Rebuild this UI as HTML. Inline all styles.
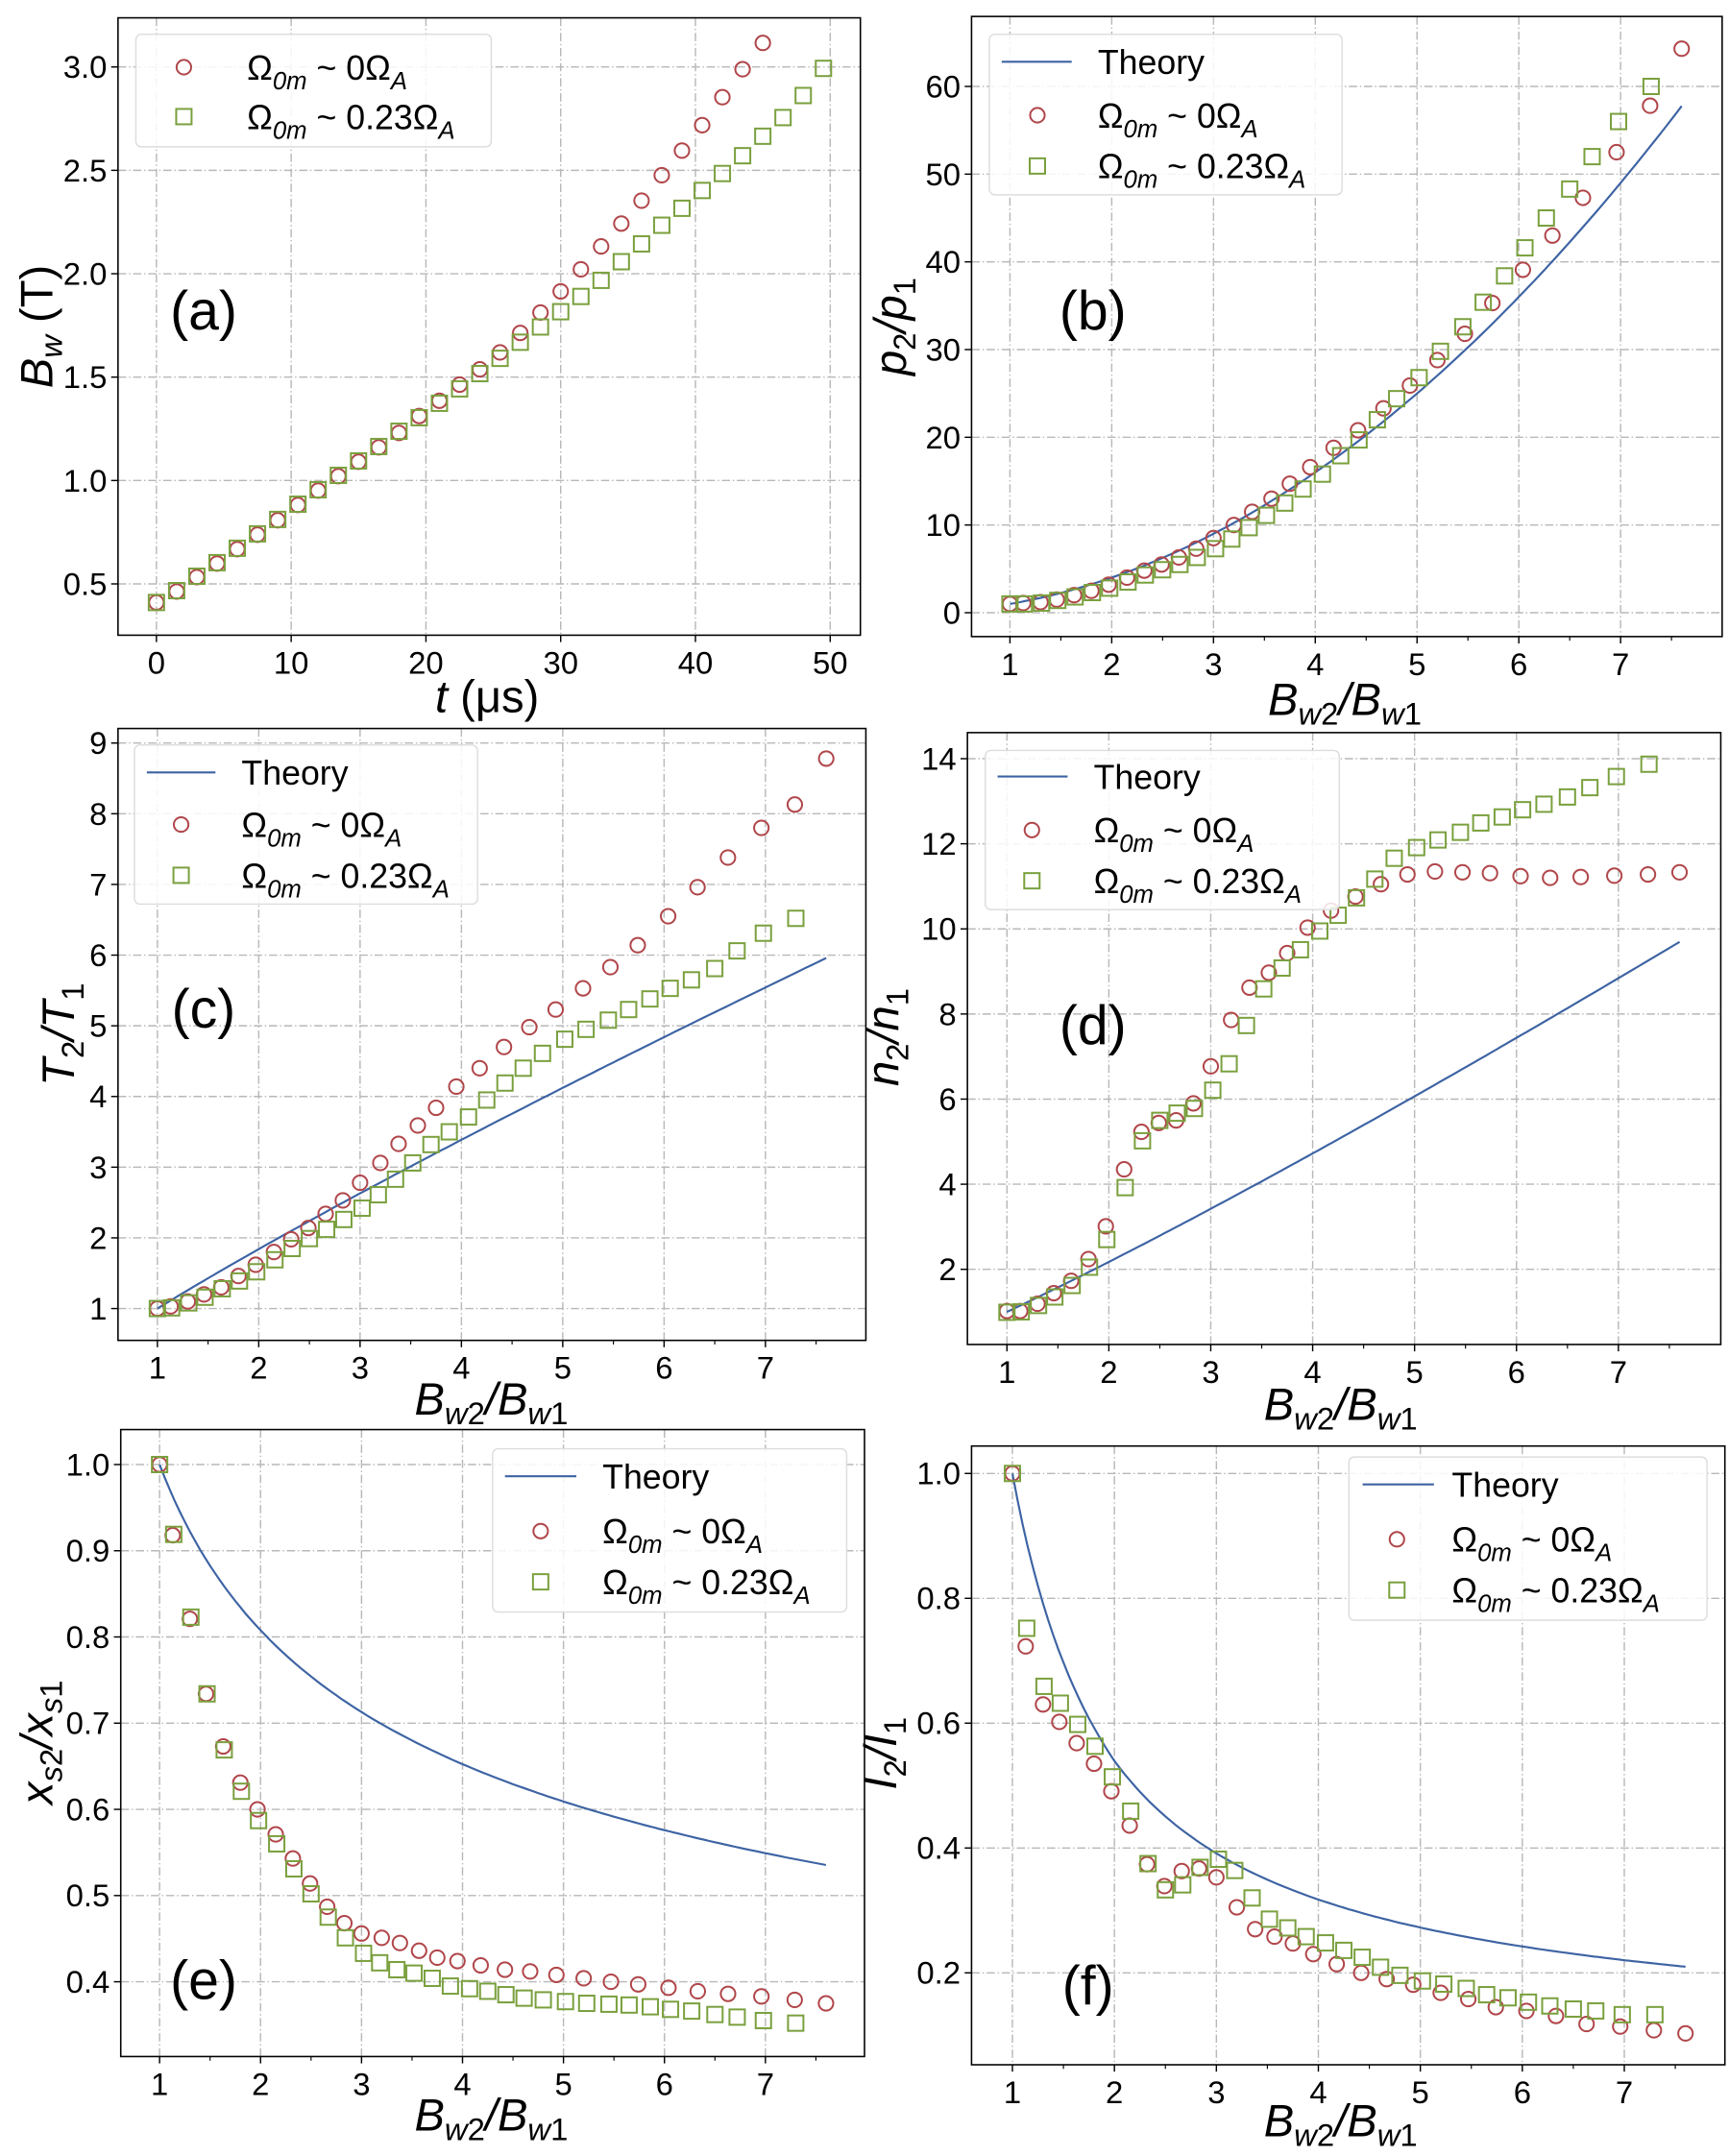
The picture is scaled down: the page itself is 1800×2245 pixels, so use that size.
<!DOCTYPE html>
<html><head><meta charset="utf-8">
<style>
html,body{margin:0;padding:0;background:#fff}
svg{display:block}
text{font-family:"Liberation Sans","DejaVu Sans",sans-serif;fill:#000}
.tk{font-size:23px}
.al{font-size:33px}
.lg{font-size:25px}
.pl{font-size:40px}
</style></head>
<body>
<svg id="s" width="1800" height="2245" viewBox="0 0 1260 1571.5" xmlns="http://www.w3.org/2000/svg">
<g id="grid"></g>
<g id="data"></g>
<g id="frames"></g>

<g id="a" class="tk"><text class="xt">0</text><text class="xt">10</text><text class="xt">20</text><text class="xt">30</text><text class="xt">40</text><text class="xt">50</text>
<text class="yt">0.5</text><text class="yt">1.0</text><text class="yt">1.5</text><text class="yt">2.0</text><text class="yt">2.5</text><text class="yt">3.0</text></g>
<g id="b" class="tk"><text class="xt">1</text><text class="xt">2</text><text class="xt">3</text><text class="xt">4</text><text class="xt">5</text><text class="xt">6</text><text class="xt">7</text>
<text class="yt">0</text><text class="yt">10</text><text class="yt">20</text><text class="yt">30</text><text class="yt">40</text><text class="yt">50</text><text class="yt">60</text></g>
<g id="c" class="tk"><text class="xt">1</text><text class="xt">2</text><text class="xt">3</text><text class="xt">4</text><text class="xt">5</text><text class="xt">6</text><text class="xt">7</text>
<text class="yt">1</text><text class="yt">2</text><text class="yt">3</text><text class="yt">4</text><text class="yt">5</text><text class="yt">6</text><text class="yt">7</text><text class="yt">8</text><text class="yt">9</text></g>
<g id="d" class="tk"><text class="xt">1</text><text class="xt">2</text><text class="xt">3</text><text class="xt">4</text><text class="xt">5</text><text class="xt">6</text><text class="xt">7</text>
<text class="yt">2</text><text class="yt">4</text><text class="yt">6</text><text class="yt">8</text><text class="yt">10</text><text class="yt">12</text><text class="yt">14</text></g>
<g id="e" class="tk"><text class="xt">1</text><text class="xt">2</text><text class="xt">3</text><text class="xt">4</text><text class="xt">5</text><text class="xt">6</text><text class="xt">7</text>
<text class="yt">0.4</text><text class="yt">0.5</text><text class="yt">0.6</text><text class="yt">0.7</text><text class="yt">0.8</text><text class="yt">0.9</text><text class="yt">1.0</text></g>
<g id="f" class="tk"><text class="xt">1</text><text class="xt">2</text><text class="xt">3</text><text class="xt">4</text><text class="xt">5</text><text class="xt">6</text><text class="xt">7</text>
<text class="yt">0.2</text><text class="yt">0.4</text><text class="yt">0.6</text><text class="yt">0.8</text><text class="yt">1.0</text></g>

<g id="legends"></g>
<g class="lg">
<text x="180" y="58">Ω<tspan font-size="18" dy="7" font-style="italic">0m</tspan><tspan dy="-7"> ~ 0Ω</tspan><tspan font-size="18" dy="7" font-style="italic">A</tspan></text>
<text x="180" y="94">Ω<tspan font-size="18" dy="7" font-style="italic">0m</tspan><tspan dy="-7"> ~ 0.23Ω</tspan><tspan font-size="18" dy="7" font-style="italic">A</tspan></text>

<text x="800" y="54">Theory</text>
<text x="800" y="93">Ω<tspan font-size="18" dy="7" font-style="italic">0m</tspan><tspan dy="-7"> ~ 0Ω</tspan><tspan font-size="18" dy="7" font-style="italic">A</tspan></text>
<text x="800" y="130">Ω<tspan font-size="18" dy="7" font-style="italic">0m</tspan><tspan dy="-7"> ~ 0.23Ω</tspan><tspan font-size="18" dy="7" font-style="italic">A</tspan></text>

<text x="176" y="572">Theory</text>
<text x="176" y="610">Ω<tspan font-size="18" dy="7" font-style="italic">0m</tspan><tspan dy="-7"> ~ 0Ω</tspan><tspan font-size="18" dy="7" font-style="italic">A</tspan></text>
<text x="176" y="647">Ω<tspan font-size="18" dy="7" font-style="italic">0m</tspan><tspan dy="-7"> ~ 0.23Ω</tspan><tspan font-size="18" dy="7" font-style="italic">A</tspan></text>

<text x="797" y="575">Theory</text>
<text x="797" y="614">Ω<tspan font-size="18" dy="7" font-style="italic">0m</tspan><tspan dy="-7"> ~ 0Ω</tspan><tspan font-size="18" dy="7" font-style="italic">A</tspan></text>
<text x="797" y="651">Ω<tspan font-size="18" dy="7" font-style="italic">0m</tspan><tspan dy="-7"> ~ 0.23Ω</tspan><tspan font-size="18" dy="7" font-style="italic">A</tspan></text>

<text x="439" y="1085">Theory</text>
<text x="439" y="1125">Ω<tspan font-size="18" dy="7" font-style="italic">0m</tspan><tspan dy="-7"> ~ 0Ω</tspan><tspan font-size="18" dy="7" font-style="italic">A</tspan></text>
<text x="439" y="1162">Ω<tspan font-size="18" dy="7" font-style="italic">0m</tspan><tspan dy="-7"> ~ 0.23Ω</tspan><tspan font-size="18" dy="7" font-style="italic">A</tspan></text>

<text x="1058" y="1091">Theory</text>
<text x="1058" y="1131">Ω<tspan font-size="18" dy="7" font-style="italic">0m</tspan><tspan dy="-7"> ~ 0Ω</tspan><tspan font-size="18" dy="7" font-style="italic">A</tspan></text>
<text x="1058" y="1168">Ω<tspan font-size="18" dy="7" font-style="italic">0m</tspan><tspan dy="-7"> ~ 0.23Ω</tspan><tspan font-size="18" dy="7" font-style="italic">A</tspan></text>
</g>

<g class="pl">
<text x="124" y="240">(a)</text>
<text x="772" y="240">(b)</text>
<text x="125" y="749">(c)</text>
<text x="772" y="761">(d)</text>
<text x="124" y="1457">(e)</text>
<text x="774" y="1461">(f)</text>
</g>

<g class="al">
<text x="355" y="519" text-anchor="middle"><tspan font-style="italic">t</tspan> (μs)</text>
<text transform="translate(38,238) rotate(-90)" text-anchor="middle"><tspan font-style="italic">B</tspan><tspan font-size="23" dy="7" font-style="italic">w</tspan><tspan dy="-7"> (T)</tspan></text>

<text x="980" y="521" text-anchor="middle"><tspan font-style="italic">B</tspan><tspan font-size="23" dy="7" font-style="italic">w</tspan><tspan font-size="23">2</tspan><tspan dy="-7" font-style="italic">/B</tspan><tspan font-size="23" dy="7" font-style="italic">w</tspan><tspan font-size="23">1</tspan></text>
<text transform="translate(660,238) rotate(-90)" text-anchor="middle"><tspan font-style="italic">p</tspan><tspan font-size="23" dy="7">2</tspan><tspan dy="-7" font-style="italic">/p</tspan><tspan font-size="23" dy="7">1</tspan></text>

<text x="358" y="1031" text-anchor="middle"><tspan font-style="italic">B</tspan><tspan font-size="23" dy="7" font-style="italic">w</tspan><tspan font-size="23">2</tspan><tspan dy="-7" font-style="italic">/B</tspan><tspan font-size="23" dy="7" font-style="italic">w</tspan><tspan font-size="23">1</tspan></text>
<text transform="translate(54,754) rotate(-90)" text-anchor="middle"><tspan font-style="italic">T</tspan><tspan font-size="23" dy="7">2</tspan><tspan dy="-7" font-style="italic">/T</tspan><tspan font-size="23" dy="7">1</tspan></text>

<text x="977" y="1035" text-anchor="middle"><tspan font-style="italic">B</tspan><tspan font-size="23" dy="7" font-style="italic">w</tspan><tspan font-size="23">2</tspan><tspan dy="-7" font-style="italic">/B</tspan><tspan font-size="23" dy="7" font-style="italic">w</tspan><tspan font-size="23">1</tspan></text>
<text transform="translate(655,756) rotate(-90)" text-anchor="middle"><tspan font-style="italic">n</tspan><tspan font-size="23" dy="7">2</tspan><tspan dy="-7" font-style="italic">/n</tspan><tspan font-size="23" dy="7">1</tspan></text>

<text x="358" y="1553" text-anchor="middle"><tspan font-style="italic">B</tspan><tspan font-size="23" dy="7" font-style="italic">w</tspan><tspan font-size="23">2</tspan><tspan dy="-7" font-style="italic">/B</tspan><tspan font-size="23" dy="7" font-style="italic">w</tspan><tspan font-size="23">1</tspan></text>
<text transform="translate(38,1270) rotate(-90)" text-anchor="middle"><tspan font-style="italic">x</tspan><tspan font-size="23" dy="7" font-style="italic">s</tspan><tspan font-size="23">2</tspan><tspan dy="-7" font-style="italic">/x</tspan><tspan font-size="23" dy="7" font-style="italic">s</tspan><tspan font-size="23">1</tspan></text>

<text x="977" y="1557" text-anchor="middle"><tspan font-style="italic">B</tspan><tspan font-size="23" dy="7" font-style="italic">w</tspan><tspan font-size="23">2</tspan><tspan dy="-7" font-style="italic">/B</tspan><tspan font-size="23" dy="7" font-style="italic">w</tspan><tspan font-size="23">1</tspan></text>
<text transform="translate(653,1278) rotate(-90)" text-anchor="middle"><tspan font-style="italic">I</tspan><tspan font-size="23" dy="7">2</tspan><tspan dy="-7" font-style="italic">/I</tspan><tspan font-size="23" dy="7">1</tspan></text>
</g>
</svg>

<script>
(function(){
var NS="http://www.w3.org/2000/svg";
function el(p,t,a){var e=document.createElementNS(NS,t);for(var k in a)e.setAttribute(k,a[k]);p.appendChild(e);return e;}
var RED="#b0464a",GRN="#7aa03e",BLUE="#3d63a3";
var xc=[1,1.13,1.3,1.46,1.63,1.8,1.97,2.15,2.32,2.49,2.66,2.83,3.0,3.2,3.38,3.57,3.75,3.95,4.18,4.42,4.67,4.93,5.2,5.47,5.74,6.04,6.33,6.63,6.96,7.29,7.6];
var xs=[1,1.14,1.31,1.47,1.64,1.81,1.98,2.16,2.33,2.5,2.67,2.84,3.02,3.18,3.35,3.52,3.7,3.88,4.07,4.25,4.43,4.61,4.8,5.02,5.23,5.45,5.65,5.86,6.06,6.27,6.5,6.72,6.98,7.3];
var P={
a:{L:86,R:627,T:13,B:463,px:[0,114,50,605],py:[0.5,425.6,3.0,48.8],minor:false},
b:{L:708,R:1255,T:12,B:464,px:[1,736,7,1181],py:[0,446.6,60,63],minor:true},
c:{L:86,R:631,T:531,B:977,px:[1,114.7,7,557.8],py:[1,953.8,9,541.6],minor:true},
d:{L:705,R:1254,T:534,B:980,px:[1,733.8,7,1179.4],py:[2,925.2,14,553],minor:true},
e:{L:88,R:630,T:1042,B:1499,px:[1,116.3,7,557.8],py:[0.4,1444.5,1.0,1067.5],minor:true},
f:{L:708,R:1257,T:1054,B:1505,px:[1,737.8,7,1183.7],py:[0.2,1438,1.0,1074],minor:true}
};
function mx(p,v){return p.px[1]+(v-p.px[0])*(p.px[3]-p.px[1])/(p.px[2]-p.px[0]);}
function my(p,v){return p.py[1]+(v-p.py[0])*(p.py[3]-p.py[1])/(p.py[2]-p.py[0]);}
var G=document.getElementById("grid"),D=document.getElementById("data"),F=document.getElementById("frames"),LG=document.getElementById("legends");
var bwc=[],bws=[],tc=[],ts=[];
for(var i=0;i<31;i++){tc.push(1.5*i);bwc.push(0.41*xc[i]);}
for(var i=0;i<34;i++){ts.push(1.5*i);bws.push(0.41*xs[i]);}
var Y={
b:[[1.0,1.1,1.2,1.5,2.0,2.5,3.2,4.0,4.8,5.5,6.3,7.3,8.5,10.0,11.5,13.0,14.7,16.6,18.8,20.8,23.3,25.9,28.8,31.8,35.3,39.1,43.0,47.3,52.5,57.8,64.3],
 [1.0,1.0,1.1,1.4,1.8,2.3,2.8,3.5,4.3,4.9,5.5,6.3,7.3,8.4,9.7,11.1,12.5,14.1,15.8,17.9,19.7,22.0,24.4,26.8,29.8,32.6,35.4,38.4,41.6,45.0,48.3,52.0,56.0,60.0],function(x){return x*x;}],
c:[[1.0,1.03,1.1,1.2,1.3,1.46,1.62,1.8,1.98,2.14,2.34,2.53,2.78,3.06,3.33,3.59,3.84,4.14,4.4,4.7,4.98,5.23,5.53,5.83,6.14,6.55,6.96,7.38,7.8,8.13,8.78],
 [1.0,1.01,1.08,1.16,1.28,1.39,1.52,1.69,1.85,1.99,2.12,2.26,2.42,2.61,2.83,3.06,3.32,3.5,3.71,3.95,4.19,4.4,4.61,4.81,4.95,5.08,5.23,5.38,5.53,5.65,5.81,6.06,6.31,6.52],function(x){return Math.pow(x,0.88);}],
d:[[1.02,1.02,1.19,1.44,1.73,2.24,3.01,4.35,5.23,5.44,5.5,5.9,6.77,7.86,8.62,8.97,9.43,10.03,10.43,10.76,11.05,11.28,11.35,11.33,11.31,11.24,11.2,11.22,11.25,11.28,11.33],
 [0.99,1.0,1.15,1.35,1.62,2.05,2.7,3.92,5.02,5.5,5.67,5.78,6.21,6.83,7.73,8.59,9.08,9.51,9.95,10.32,10.73,11.17,11.66,11.91,12.09,12.27,12.49,12.63,12.8,12.93,13.1,13.32,13.58,13.87],function(x){return Math.pow(x,1.12);}],
e:[[1.0,0.918,0.821,0.734,0.673,0.631,0.6,0.571,0.543,0.514,0.487,0.468,0.456,0.451,0.445,0.436,0.428,0.424,0.419,0.414,0.412,0.408,0.404,0.4,0.397,0.393,0.389,0.386,0.383,0.379,0.375],
 [1.0,0.919,0.823,0.734,0.669,0.621,0.587,0.56,0.531,0.502,0.475,0.451,0.433,0.422,0.414,0.41,0.404,0.395,0.392,0.389,0.385,0.381,0.379,0.377,0.375,0.374,0.373,0.371,0.368,0.366,0.362,0.359,0.355,0.352],function(x){return Math.pow(x,-0.308);}],
f:[[1.0,0.723,0.63,0.602,0.568,0.535,0.491,0.436,0.374,0.339,0.363,0.367,0.353,0.305,0.27,0.258,0.247,0.23,0.214,0.2,0.19,0.181,0.168,0.158,0.145,0.139,0.131,0.118,0.114,0.108,0.103],
 [1.0,0.752,0.659,0.632,0.598,0.563,0.514,0.459,0.375,0.333,0.341,0.369,0.382,0.364,0.32,0.286,0.272,0.258,0.248,0.236,0.225,0.209,0.196,0.187,0.182,0.175,0.165,0.16,0.153,0.147,0.142,0.139,0.133,0.133],
 function(x){var a=x<=2?0.89:0.89-0.12*(Math.log(x)-Math.log(2))/(Math.log(7.6)-Math.log(2));return Math.pow(x,-a);}]
};
for(var id in P){
 var p=P[id],g=document.getElementById(id);
 var xt=g.querySelectorAll(".xt"),yt=g.querySelectorAll(".yt");
 xt.forEach(function(t){var v=parseFloat(t.textContent),X=mx(p,v);
  t.setAttribute("x",X);t.setAttribute("y",p.B+28);t.setAttribute("text-anchor","middle");
  el(G,"line",{x1:X,x2:X,y1:p.T,y2:p.B,stroke:"#b8b8b8","stroke-width":1,"stroke-dasharray":"6 2 1 2"});
  el(F,"line",{x1:X,x2:X,y1:p.B,y2:p.B+5,stroke:"#000","stroke-width":1});});
 yt.forEach(function(t){var v=parseFloat(t.textContent),Yv=my(p,v);
  t.setAttribute("x",p.L-8);t.setAttribute("y",Yv+8);t.setAttribute("text-anchor","end");
  el(G,"line",{x1:p.L,x2:p.R,y1:Yv,y2:Yv,stroke:"#b8b8b8","stroke-width":1,"stroke-dasharray":"6 2 1 2"});
  el(F,"line",{x1:p.L-5,x2:p.L,y1:Yv,y2:Yv,stroke:"#000","stroke-width":1});});
 if(p.minor){for(var m=1.5;m<8;m+=1){var X=mx(p,m);el(F,"line",{x1:X,x2:X,y1:p.B,y2:p.B+3,stroke:"#000","stroke-width":0.8});}}
 el(F,"rect",{x:p.L,y:p.T,width:p.R-p.L,height:p.B-p.T,fill:"none",stroke:"#000","stroke-width":1.1});
}
function circ(x,y){el(D,"circle",{cx:x,cy:y,r:5.3,fill:"none",stroke:RED,"stroke-width":1.4});}
function sq(x,y){el(D,"rect",{x:x-5.6,y:y-5.6,width:11.2,height:11.2,fill:"none",stroke:GRN,"stroke-width":1.4});}
var pa=P.a;
for(var i=0;i<31;i++)circ(mx(pa,tc[i]),my(pa,bwc[i]));
for(var i=0;i<34;i++)sq(mx(pa,ts[i]),my(pa,bws[i]));
for(var id in Y){
 var p=P[id],y=Y[id],pts=[];
 for(var x=1;x<=7.6001;x+=0.05)pts.push(mx(p,x).toFixed(1)+","+my(p,y[2](x)).toFixed(1));
 el(D,"polyline",{points:pts.join(" "),fill:"none",stroke:BLUE,"stroke-width":1.5});
 for(var i=0;i<y[0].length;i++)circ(mx(p,xc[i]),my(p,y[0][i]));
 for(var i=0;i<y[1].length;i++)sq(mx(p,xs[i]),my(p,y[1][i]));
}
var L=[
 {x:99,y:25,w:259,h:82,th:null,m:134,r1:49,r2:85},
 {x:721,y:25,w:257,h:117,th:[730,781,45],m:756,r1:84,r2:121},
 {x:98,y:543,w:250,h:116,th:[107,157,563],m:132,r1:601,r2:638},
 {x:718,y:547,w:258,h:116,th:[727,778,566],m:752,r1:605,r2:642},
 {x:359,y:1056,w:258,h:119,th:[368,420,1076],m:394,r1:1116,r2:1153},
 {x:983,y:1062,w:261,h:119,th:[993,1045,1082],m:1018,r1:1122,r2:1159}
];
L.forEach(function(l){
 el(LG,"rect",{x:l.x,y:l.y,width:l.w,height:l.h,rx:4,fill:"#fff","fill-opacity":0.85,stroke:"#dddddd","stroke-width":1});
 if(l.th)el(LG,"line",{x1:l.th[0],x2:l.th[1],y1:l.th[2],y2:l.th[2],stroke:BLUE,"stroke-width":1.5});
 el(LG,"circle",{cx:l.m,cy:l.r1,r:5.3,fill:"none",stroke:RED,"stroke-width":1.4});
 el(LG,"rect",{x:l.m-5.6,y:l.r2-5.6,width:11.2,height:11.2,fill:"none",stroke:GRN,"stroke-width":1.4});
});
})();
</script>
</body></html>
